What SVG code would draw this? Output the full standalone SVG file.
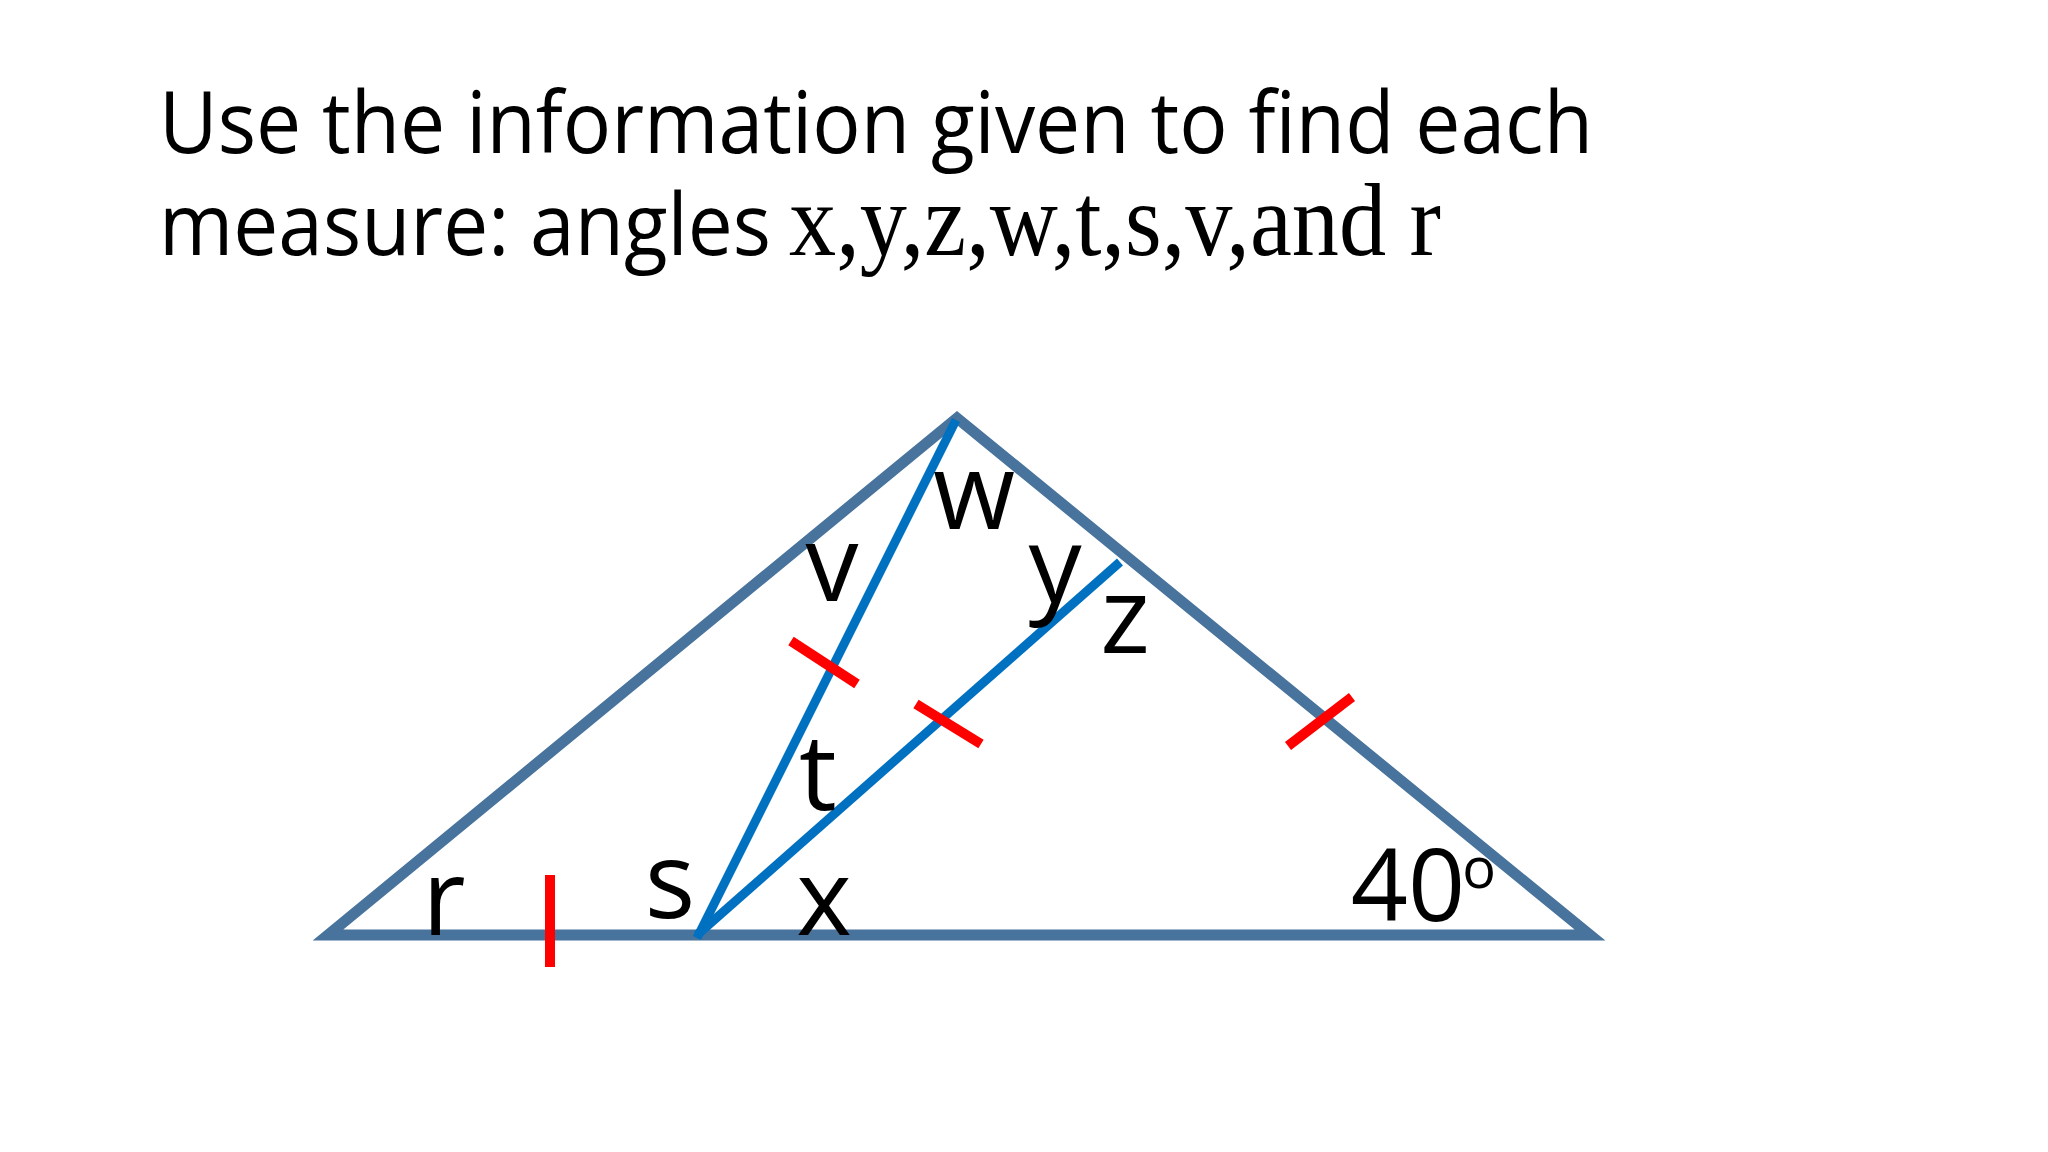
<svg xmlns="http://www.w3.org/2000/svg" width="2048" height="1152" viewBox="0 0 2048 1152">
<style>
.title{font-family:"Open Sans","Liberation Sans",sans-serif;font-size:86px;fill:#000}
.serif{font-family:"Liberation Serif","DejaVu Serif",serif;font-size:104px;fill:#000}
.lbl{font-family:"Open Sans","Liberation Sans",sans-serif;font-size:106px;fill:#000;text-anchor:middle}
.outer{fill:none;stroke:#48739C;stroke-width:11;stroke-linejoin:miter;stroke-miterlimit:20}
.inner{fill:none;stroke:#0070C0;stroke-width:9}
.tick{fill:none;stroke:#FF0000;stroke-width:10}
</style>
<rect width="2048" height="1152" fill="#fff"/>
<g id="title">
<text class="title" x="159" y="153" textLength="1434" lengthAdjust="spacingAndGlyphs">Use the information given to find each</text>
<text class="title" x="159" y="255" textLength="612" lengthAdjust="spacingAndGlyphs">measure: angles</text>
<text class="serif" x="789" y="255" textLength="652" lengthAdjust="spacingAndGlyphs">x,y,z,w,t,s,v,and r</text>
</g>
<g id="triangle">
<polygon class="outer" points="328,935 957,418 1590,935"/>
</g>
<g id="connectors">
<line class="inner" x1="956" y1="420" x2="697" y2="938"/>
<line class="inner" x1="697" y1="935" x2="1120" y2="562"/>
</g>
<g id="ticks">
<line class="tick" x1="550" y1="875" x2="550" y2="967"/>
<line class="tick" x1="791" y1="641" x2="857" y2="684"/>
<line class="tick" x1="916" y1="704" x2="981" y2="744"/>
<line class="tick" x1="1288" y1="746" x2="1352" y2="697"/>
</g>
<g id="labels">
<text class="lbl" x="444" y="935">r</text>
<text class="lbl" x="670" y="918">s</text>
<text class="lbl" x="824" y="935">x</text>
<text class="lbl" x="818" y="810">t</text>
<text class="lbl" x="832" y="601">v</text>
<text class="lbl" x="974" y="529">w</text>
<text class="lbl" x="1055" y="603">y</text>
<text class="lbl" x="1125" y="653">z</text>
<text class="lbl" x="1408" y="921" style="font-size:100px">40</text>
<text class="lbl" x="1479" y="888" style="font-size:56px">o</text>
</g>
</svg>
